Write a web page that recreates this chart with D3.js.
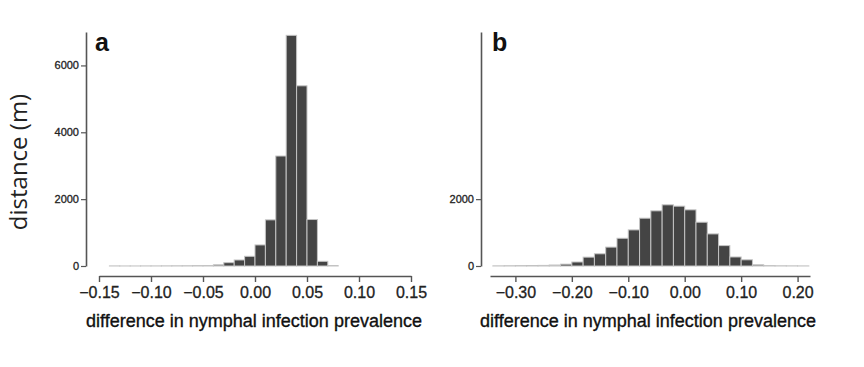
<!DOCTYPE html>
<html>
<head>
<meta charset="utf-8">
<script src="https://cdn.jsdelivr.net/npm/d3@7"></script>
<style>
  body { margin: 0; background: #fff; }
  .tick text { font-family: "Liberation Sans", Arial, sans-serif; fill: #222; stroke: #222; stroke-width: 0.3px; }
</style>
</head>
<body>
<div id="vis"></div>
<script>
// histogram a: bin left edges (width 0.01) and counts
const binsA = [-0.14, -0.13, -0.12, -0.11, -0.10, -0.09, -0.08, -0.07, -0.06, -0.05, -0.04,
               -0.03, -0.02, -0.01, 0.00, 0.01, 0.02, 0.03, 0.04, 0.05, 0.06, 0.07];
const countsA = [2, 1, 1, 2, 2, 3, 4, 5, 8, 15, 35, 100, 180, 290, 630, 1380, 3290, 6900, 5390, 1390, 140, 10];

// histogram b: bin left edges (width 0.02) and counts
const binsB = [-0.34, -0.32, -0.30, -0.28, -0.26, -0.24, -0.22, -0.20, -0.18, -0.16, -0.14, -0.12,
               -0.10, -0.08, -0.06, -0.04, -0.02, 0.00, 0.02, 0.04, 0.06, 0.08, 0.10, 0.12,
               0.14, 0.16, 0.18, 0.20];
const countsB = [3, 5, 8, 12, 18, 30, 55, 120, 265, 365, 565, 830, 1080, 1430, 1650, 1830, 1790,
                 1680, 1310, 960, 610, 270, 185, 35, 8, 4, 3, 2];

const ticksA = [-0.15, -0.10, -0.05, 0.00, 0.05, 0.10, 0.15];
const ticksB = [-0.30, -0.20, -0.10, 0.00, 0.10, 0.20];
const yTicksA = [0, 2000, 4000, 6000];
const yTicksB = [0, 2000];

const width = 864, height = 367;
const svg = d3.select('#vis').append('svg')
  .attr('width', width)
  .attr('height', height);

const y = d3.scaleLinear().domain([0, 7000]).range([266, 32]);

function panel(cfg) {
  const x = d3.scaleLinear().domain(cfg.domain).range(cfg.range);
  const g = svg.append('g');

  // bars
  g.append('g')
    .selectAll('rect')
    .data(cfg.bins.map((b, i) => ({ x0: b, x1: b + cfg.bw, n: cfg.counts[i] })))
    .join('rect')
      .attr('x', d => x(d.x0))
      .attr('y', d => y(d.n))
      .attr('width', d => x(d.x1) - x(d.x0))
      .attr('height', d => y(0) - y(d.n))
      .attr('fill', '#444')
      .attr('stroke', '#c4c4c4')
      .attr('stroke-width', 1);

  // x axis
  const xa = g.append('g')
    .attr('transform', 'translate(0,276)')
    .call(d3.axisBottom(x).tickValues(cfg.ticks).tickFormat(d3.format('.2f'))
      .tickSize(6).tickSizeOuter(0).tickPadding(5));
  xa.select('.domain').attr('stroke', '#555').attr('stroke-width', 1.6);
  xa.selectAll('.tick line').attr('stroke', '#555').attr('stroke-width', 1.4);
  xa.selectAll('.tick text').style('font-size', '16px');

  // y axis
  const ya = g.append('g')
    .attr('transform', `translate(${cfg.yx},0)`)
    .call(d3.axisLeft(y).tickValues(cfg.yticks).tickFormat(d3.format('d'))
      .tickSize(5).tickSizeOuter(0).tickPadding(2));
  ya.select('.domain').attr('stroke', '#555').attr('stroke-width', 1.6);
  ya.selectAll('.tick line').attr('stroke', '#555').attr('stroke-width', 1.2);
  ya.selectAll('.tick text').style('font-size', '11px');

  // x label
  g.append('text')
    .attr('x', cfg.labelX)
    .attr('y', 327)
    .attr('text-anchor', 'middle')
    .style('font-family', '"Liberation Sans", Arial, sans-serif')
    .style('font-size', '18px')
    .style('fill', '#111')
    .style('stroke', '#111')
    .style('stroke-width', '0.35px')
    .text('difference in nymphal infection prevalence');

  // panel letter
  g.append('text')
    .attr('x', cfg.letterX)
    .attr('y', 51)
    .style('font-family', '"Liberation Sans", Arial, sans-serif')
    .style('font-weight', 'bold')
    .style('font-size', '25px')
    .style('fill', '#111')
    .text(cfg.letter);
}

panel({ bins: binsA, counts: countsA, bw: 0.01, domain: [-0.15, 0.15], range: [99, 411],
        ticks: ticksA, yticks: yTicksA, yx: 86, labelX: 254, letter: 'a', letterX: 95 });
panel({ bins: binsB, counts: countsB, bw: 0.02, domain: [-0.345, 0.222], range: [490, 810],
        ticks: ticksB, yticks: yTicksB, yx: 481, labelX: 648, letter: 'b', letterX: 492 });

// shared y label
svg.append('text')
  .attr('transform', 'translate(27,162) rotate(-90)')
  .attr('text-anchor', 'middle')
  .style('font-family', '"Open Sans", sans-serif')
  .style('font-size', '24px')
  .style('fill', '#222')
  .text('distance (m)');
</script>
</body>
</html>
